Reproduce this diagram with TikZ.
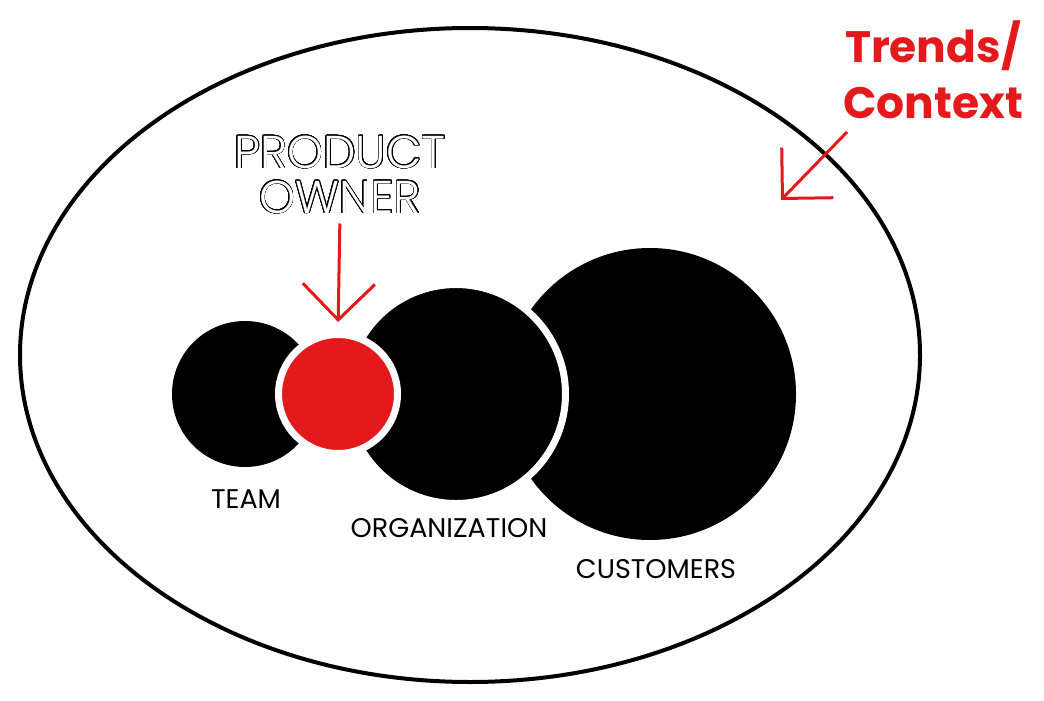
\documentclass[tikz,border=0pt]{standalone}
\usepackage{fontspec}
\setmainfont{Poppins}
\newfontfamily\poLight{Poppins}[UprightFont=* Light]
\usepackage[copies]{contour}
\contourlength{0.75pt}
\contournumber{32}
\usetikzlibrary{arrows.meta}
\definecolor{poRed}{HTML}{E3191B}
\newcommand{\hollowtxt}[1]{\contour{black}{\color{white}#1}}

\begin{document}
\begin{tikzpicture}[x=1pt, y=-1pt,
		blob_style/.style={circle, fill=black, inner sep=0pt},
		ring_style/.style={circle, fill=#1, draw=white, line width=7pt, inner sep=0pt},
		label_style/.style={anchor=base, inner sep=0pt, font=\fontsize{27}{30}\selectfont},
		red_arrow/.style={draw=poRed, line width=3pt, -{Straight Barb[length=36pt,width=72pt]}}]
		
		\useasboundingbox (0,0) rectangle (1044,701);
		\draw[line width=4pt] (470,355) ellipse [x radius=450, y radius=327];
		
		\node[blob_style, minimum size=292pt] (customers) at (650,394) {};
		\node[ring_style=black, minimum size=219pt] (organization) at (456,394) {};
		\node[blob_style, minimum size=146pt] (team) at (245,394) {};
		\node[ring_style=poRed, minimum size=119pt] (po) at (338,394) {};
		
		\node[label_style] (team_lbl) at (246,508) {TEAM};
		\node[label_style] (org_lbl) at (449,537) {ORGANIZATION};
		\node[label_style] (cust_lbl) at (656,578) {CUSTOMERS};
		
		\node[align=center, inner sep=0pt, font=\poLight\fontsize{46}{45}\selectfont] (po_lbl) at (340,175)
		  {\hollowtxt{PRODUCT}\\\hollowtxt{OWNER}};
		\node[align=center, inner sep=0pt, text=poRed, font=\fontsize{44}{56}\selectfont\bfseries] (trends) at (933,70)
		  {Trends/\\Context};
		
		\coordinate (ctx_start) at (847,132);
		\coordinate (ctx_tip) at (781,200);
		
		\draw[red_arrow, shorten <=9pt, shorten >=9pt] (po_lbl.south) -- (po.north);
		\draw[red_arrow] (ctx_start) -- (ctx_tip);
		
\end{tikzpicture}
\end{document}
